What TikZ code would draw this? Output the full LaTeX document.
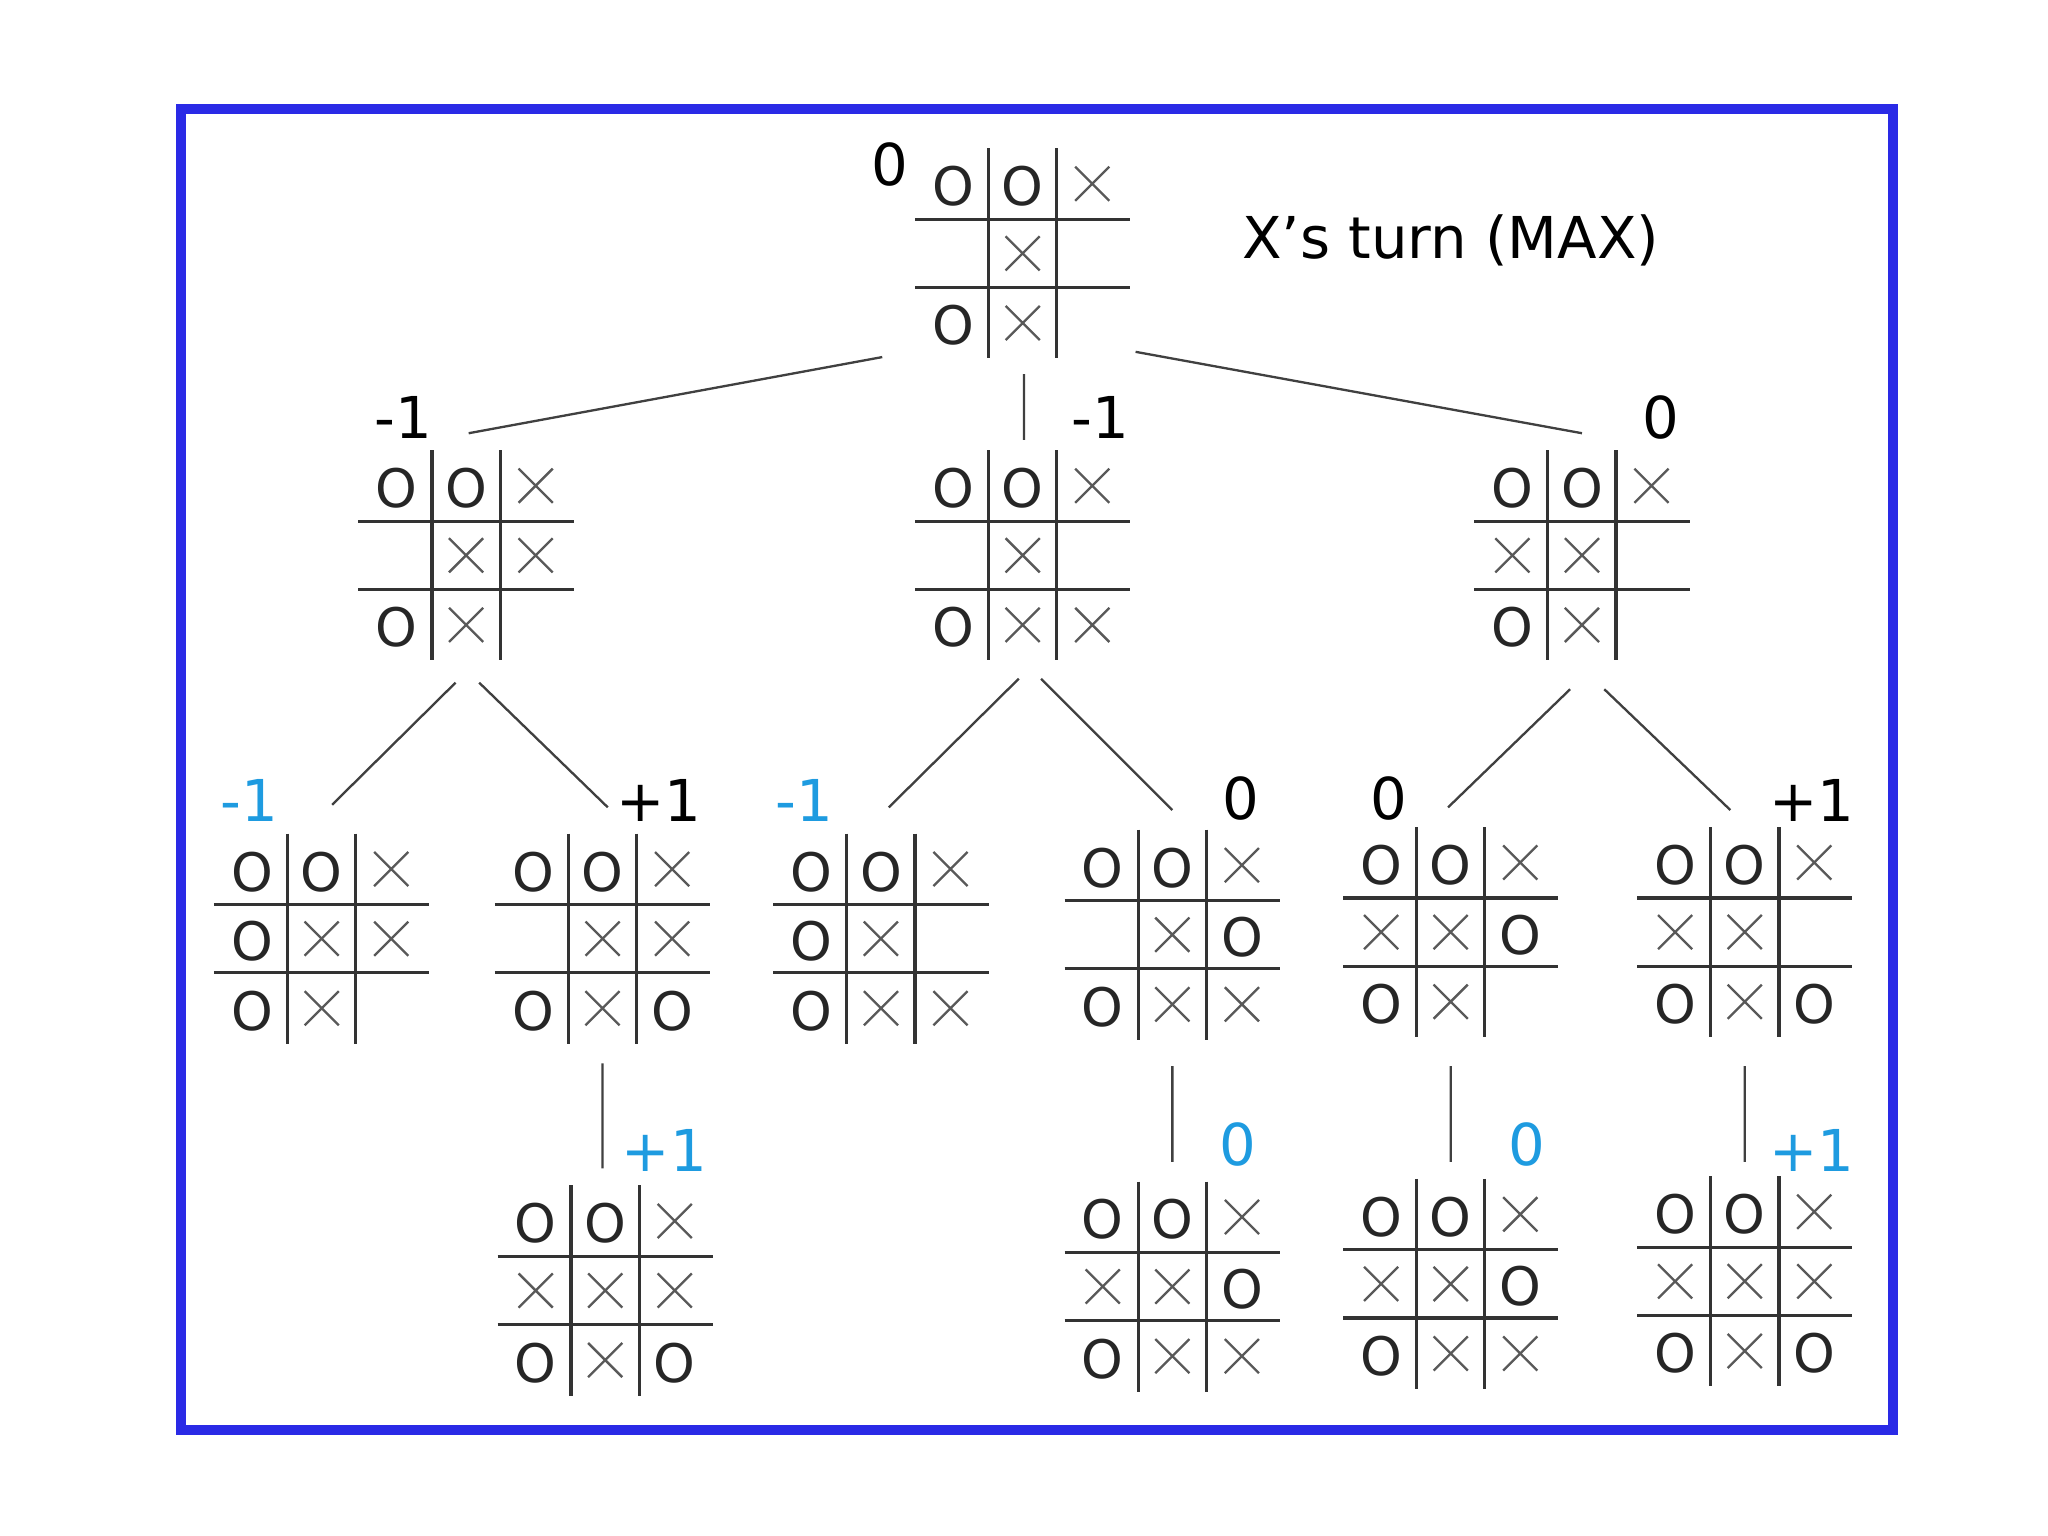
\documentclass[tikz,border=0pt]{standalone}
\usepackage{fontspec}
\setmainfont{DejaVu Sans}
\definecolor{frameblue}{HTML}{2A2AE6}
\definecolor{valblue}{HTML}{1E9BE0}
\tikzset{
  grid/.style={draw=black!80, line width=0.7pt},
  xmark/.style={draw=black!65, line width=0.5pt},
  omark/.style={font=\fontsize{11.5}{11.5}\selectfont, text=black!85, inner sep=0pt},
  val/.style={font=\fontsize{12.5}{12.5}\selectfont, text=black, inner sep=0pt},
  bval/.style={val, text=valblue},
  edge/.style={draw=black!75, line width=0.5pt}
}
\def\xx{X}
\def\oo{O}
\newcommand\tttboard[3]{%
 \begin{scope}[shift={(#1,#2)}]
  \draw[grid] (-82,-26)--(82,-26) (-82,26)--(82,26) (-26,-80)--(-26,80) (26,-80)--(26,80);
  \foreach \v [count=\i from 0] in {#3} {%
    \pgfmathtruncatemacro\r{int(\i/3)}%
    \pgfmathtruncatemacro\c{mod(\i,3)}%
    \ifx\v\xx
      \draw[xmark] ({(\c-1)*53-13},{(\r-1)*53-13}) -- ++(26,26) ({(\c-1)*53-13},{(\r-1)*53+13}) -- ++(26,-26);
    \else\ifx\v\oo
      \node[omark] at ({(\c-1)*53},{(\r-1)*53+2}) {O};
    \fi\fi
  }
 \end{scope}}
\begin{document}
\begin{tikzpicture}[x=0.01cm,y=-0.01cm]
\useasboundingbox (0,0) rectangle (1560,1170);
\fill[white] (0,0) rectangle (1560,1170);
\draw[frameblue, line width=2.2pt] (138,83) rectangle (1442,1089);
% boards
\tttboard{779}{193}{O,O,X,-,X,-,O,X,-}
\tttboard{355}{423}{O,O,X,-,X,X,O,X,-}
\tttboard{779}{423}{O,O,X,-,X,-,O,X,X}
\tttboard{1205}{423}{O,O,X,X,X,-,O,X,-}
\tttboard{245}{715}{O,O,X,O,X,X,O,X,-}
\tttboard{459}{715}{O,O,X,-,X,X,O,X,O}
\tttboard{671}{715}{O,O,X,O,X,-,O,X,X}
\tttboard{893}{712}{O,O,X,-,X,O,O,X,X}
\tttboard{1105}{710}{O,O,X,X,X,O,O,X,-}
\tttboard{1329}{710}{O,O,X,X,X,-,O,X,O}
\tttboard{461}{983}{O,O,X,X,X,X,O,X,O}
\tttboard{893}{980}{O,O,X,X,X,O,O,X,X}
\tttboard{1105}{978}{O,O,X,X,X,O,O,X,X}
\tttboard{1329}{976}{O,O,X,X,X,X,O,X,O}
% labels
\node[val] (v0) at (678,125) {0};
\node[val] (turn) at (1105,183) {X\char"0027 s turn (MAX)};
\node[val] (va) at (307,318) {-1};
\node[val] (vb) at (838,318) {-1};
\node[val] (vc) at (1265,318) {0};
\node[bval] (vaa) at (190,610) {-1};
\node[val] (vab) at (502,610) {+1};
\node[bval] (vba) at (613,610) {-1};
\node[val] (vbb) at (945,608) {0};
\node[val] (vca) at (1058,608) {0};
\node[val] (vcb) at (1380,610) {+1};
\node[bval] (vabx) at (506,876) {+1};
\node[bval] (vbbx) at (943,872) {0};
\node[bval] (vcax) at (1163,872) {0};
\node[bval] (vcbx) at (1380,876) {+1};
% edges
\coordinate (r1) at (672,272); \coordinate (a0) at (357,330);
\coordinate (r2) at (780,285); \coordinate (b0) at (780,335);
\coordinate (r3) at (865,268); \coordinate (c0) at (1205,330);
\coordinate (a1) at (347,520); \coordinate (aa) at (253,613);
\coordinate (a2) at (365,520); \coordinate (ab) at (463,615);
\coordinate (b1) at (776,517); \coordinate (ba) at (677,615);
\coordinate (b2) at (793,517); \coordinate (bb) at (893,617);
\coordinate (c1) at (1196,525); \coordinate (ca) at (1103,615);
\coordinate (c2) at (1222,525); \coordinate (cb) at (1318,617);
\coordinate (ab1) at (459,810); \coordinate (ab2) at (459,890);
\coordinate (bb1) at (893,812); \coordinate (bb2) at (893,885);
\coordinate (ca1) at (1105,812); \coordinate (ca2) at (1105,885);
\coordinate (cb1) at (1329,812); \coordinate (cb2) at (1329,885);
\draw[edge] (r1)--(a0) (r2)--(b0) (r3)--(c0)
  (a1)--(aa) (a2)--(ab) (b1)--(ba) (b2)--(bb) (c1)--(ca) (c2)--(cb)
  (ab1)--(ab2) (bb1)--(bb2) (ca1)--(ca2) (cb1)--(cb2);
\end{tikzpicture}
\end{document}
